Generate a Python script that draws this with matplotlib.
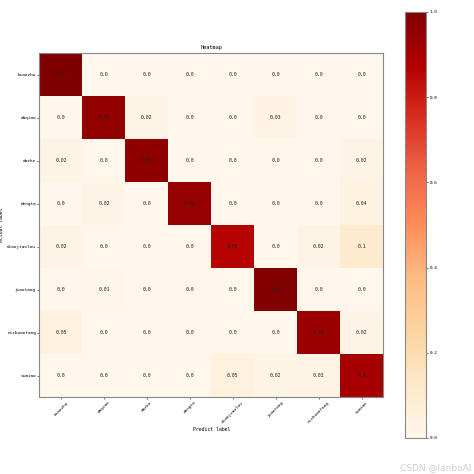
import numpy as np
import matplotlib
matplotlib.use("Agg")
import matplotlib.pyplot as plt

labels = ["biaozhu", "daqiao", "dazhe", "dengta", "diaojiaolou", "jiaotang", "nizhuanfang", "simiao"]

# rows = actual, cols = predicted
row_biaozhu = [1.0, 0.0, 0.0, 0.0, 0.0, 0.0, 0.0, 0.0]
row_daqiao = [0.0, 0.95, 0.02, 0.0, 0.0, 0.03, 0.0, 0.0]
row_dazhe = [0.02, 0.0, 0.96, 0.0, 0.0, 0.0, 0.0, 0.02]
row_dengta = [0.0, 0.02, 0.0, 0.94, 0.0, 0.0, 0.0, 0.04]
row_diaojiaolou = [0.02, 0.0, 0.0, 0.0, 0.86, 0.0, 0.02, 0.1]
row_jiaotang = [0.0, 0.01, 0.0, 0.0, 0.0, 0.99, 0.0, 0.0]
row_nizhuanfang = [0.05, 0.0, 0.0, 0.0, 0.0, 0.0, 0.93, 0.02]
row_simiao = [0.0, 0.0, 0.0, 0.0, 0.05, 0.02, 0.03, 0.9]

cm = np.array([row_biaozhu, row_daqiao, row_dazhe, row_dengta,
               row_diaojiaolou, row_jiaotang, row_nizhuanfang, row_simiao])

plt.rcParams["font.family"] = ["DejaVu Sans Mono", "DejaVu Sans"]

fig = plt.figure(figsize=(4.74, 4.74), dpi=100)
ax = fig.add_axes([0.0833, 0.1624, 0.7247, 0.7257])
cax = fig.add_axes([0.854, 0.076, 0.0443, 0.899])

im = ax.imshow(cm, cmap="OrRd", vmin=0.0, vmax=1.0, interpolation="nearest", aspect="auto")
cb = fig.colorbar(im, cax=cax)
cb.ax.tick_params(labelsize=3.2, length=1.5, width=0.4, pad=1)
cb.outline.set_edgecolor("#888888")
cb.outline.set_linewidth(0.8)

ax.set_title("Heatmap", fontsize=3.8, pad=3)
ax.set_xticks(range(len(labels)))
ax.set_yticks(range(len(labels)))
ax.set_xticklabels(labels, rotation=45, fontsize=3.2)
ax.set_yticklabels(labels, fontsize=3.2)
ax.tick_params(length=1.5, width=0.4, pad=1)
ax.set_xlabel("Predict label", fontsize=3.5, labelpad=2)
ax.set_ylabel("Actual label", fontsize=3.5, labelpad=2)
for s in ax.spines.values():
    s.set_edgecolor("#888888")
    s.set_linewidth(0.8)

for i in range(cm.shape[0]):
    for j in range(cm.shape[1]):
        ax.text(j, i, str(cm[i, j]), ha="center", va="center", fontsize=3.5, color="#222222")

fig.text(0.995, 0.005, "CSDN @lanboAI", ha="right", va="bottom", fontsize=6.5,
         color="#cccccc", family="DejaVu Sans")

plt.savefig("out.png", dpi=100)
plt.close()
